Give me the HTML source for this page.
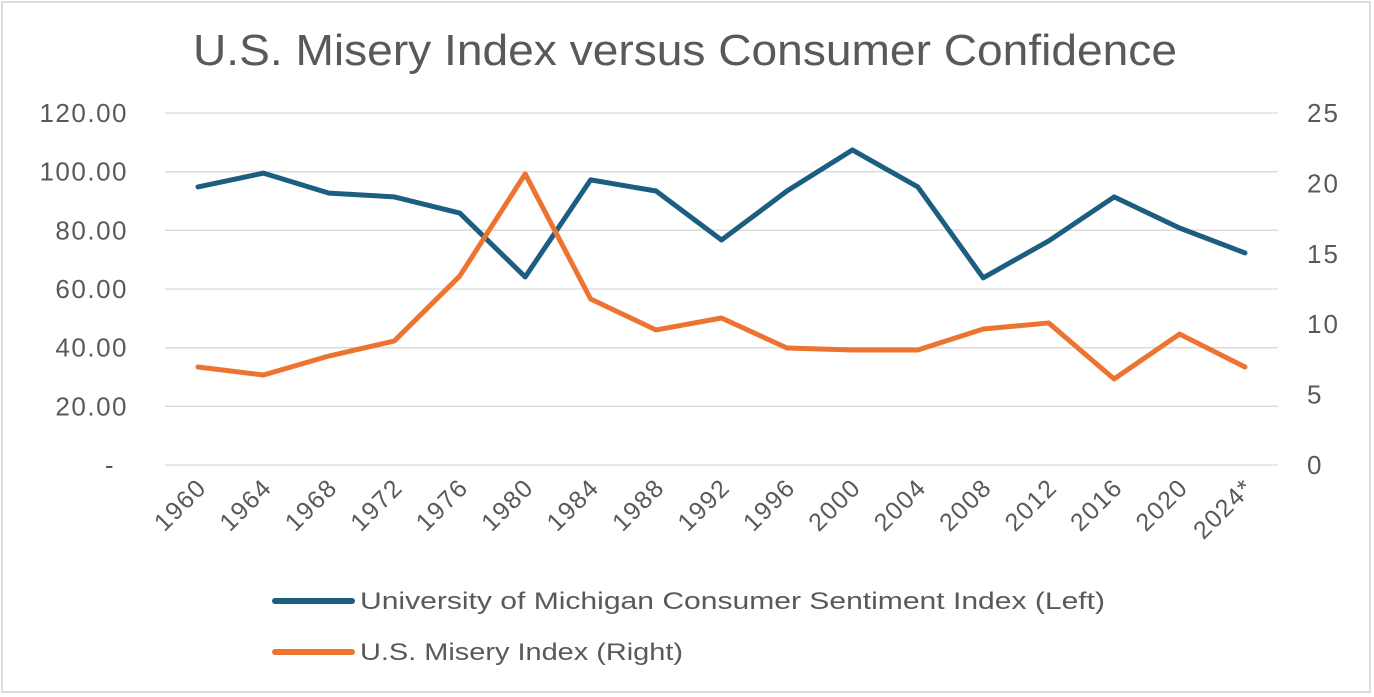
<!DOCTYPE html>
<html><head><meta charset="utf-8"><style>
body{margin:0;background:#fff;}
svg{display:block;font-family:"Liberation Sans",sans-serif;}
</style></head><body>
<svg id="chart" width="1374" height="697">
<rect x="2" y="2" width="1368" height="690" fill="#fff" stroke="#d0d0d0" stroke-width="1.5"/>
<text x="193" y="65" font-size="44" fill="#595959" textLength="984" lengthAdjust="spacingAndGlyphs">U.S. Misery Index versus Consumer Confidence</text>
<g id="grid"></g><g id="lticks"></g><g id="rticks"></g><g id="xticks"></g><g id="series"></g>
<g>
<line x1="275" y1="601" x2="352" y2="601" stroke="#1b5e80" stroke-width="6" stroke-linecap="round"/>
<text x="360" y="609" font-size="24" fill="#595959" textLength="745" lengthAdjust="spacingAndGlyphs">University of Michigan Consumer Sentiment Index (Left)</text>
<line x1="275" y1="652" x2="352" y2="652" stroke="#ed7430" stroke-width="6" stroke-linecap="round"/>
<text x="360" y="660" font-size="24" fill="#595959" textLength="323" lengthAdjust="spacingAndGlyphs">U.S. Misery Index (Right)</text>
</g>
</svg>
<script>
const categories=["1960","1964","1968","1972","1976","1980","1984","1988","1992","1996","2000","2004","2008","2012","2016","2020","2024*"];
const sentiment=[94.8,99.5,92.7,91.4,85.9,64.1,97.2,93.4,76.7,93.4,107.4,94.8,63.8,76.4,91.4,80.8,72.3];
const misery=[6.96,6.39,7.74,8.81,13.42,20.67,11.79,9.59,10.44,8.31,8.17,8.17,9.66,10.09,6.11,9.30,6.96];
const leftTicks=[0,20,40,60,80,100,120];
const leftLabels=["-","20.00","40.00","60.00","80.00","100.00","120.00"];
const rightTicks=[0,5,10,15,20,25];
const NS="http://www.w3.org/2000/svg";
const plotTop=113,plotBot=465,x0=198,x1=1245,gl=165,gr=1278;
const yL=v=>plotBot-v*(plotBot-plotTop)/120;
const yR=v=>plotBot-v*(plotBot-plotTop)/25;
const xS=i=>x0+i*(x1-x0)/(categories.length-1);
function mk(tag,attrs,parent,txt){const e=document.createElementNS(NS,tag);for(const k in attrs)e.setAttribute(k,attrs[k]);if(txt!==undefined)e.textContent=txt;document.getElementById(parent).appendChild(e);return e;}
leftTicks.forEach((t,i)=>{
 const l=mk('line',{x1:gl,x2:gr,y1:yL(t),y2:yL(t),stroke:'#d9d9d9','stroke-width':1.3},'grid');
 
 
 const tx=mk('text',{x:t===0?110:128,y:yL(t)+9,'text-anchor':t===0?'middle':'end','font-size':26,'letter-spacing':1.5,fill:'#595959'},'lticks',leftLabels[i]);
 
 
});
rightTicks.forEach(t=>{
 const tx=mk('text',{x:1307,y:yR(t)+9,'font-size':26,'letter-spacing':2,fill:'#595959'},'rticks',String(t));
 
 
});
categories.forEach((c,i)=>{
 const x=xS(i)+10,y=plotBot+24;
 const tx=mk('text',{x:x,y:y,'text-anchor':'end','font-size':25,'letter-spacing':1.5,fill:'#595959',transform:`rotate(-45 ${x} ${y})`},'xticks',c);
 
 
});
const p1=mk('polyline',{points:sentiment.map((v,i)=>xS(i)+','+yL(v)).join(' '),fill:'none',stroke:'#1b5e80','stroke-width':5,'stroke-linejoin':'round','stroke-linecap':'round'},'series');


const p2=mk('polyline',{points:misery.map((v,i)=>xS(i)+','+yR(v)).join(' '),fill:'none',stroke:'#ed7430','stroke-width':5,'stroke-linejoin':'round','stroke-linecap':'round'},'series');


</script>
</body></html>
